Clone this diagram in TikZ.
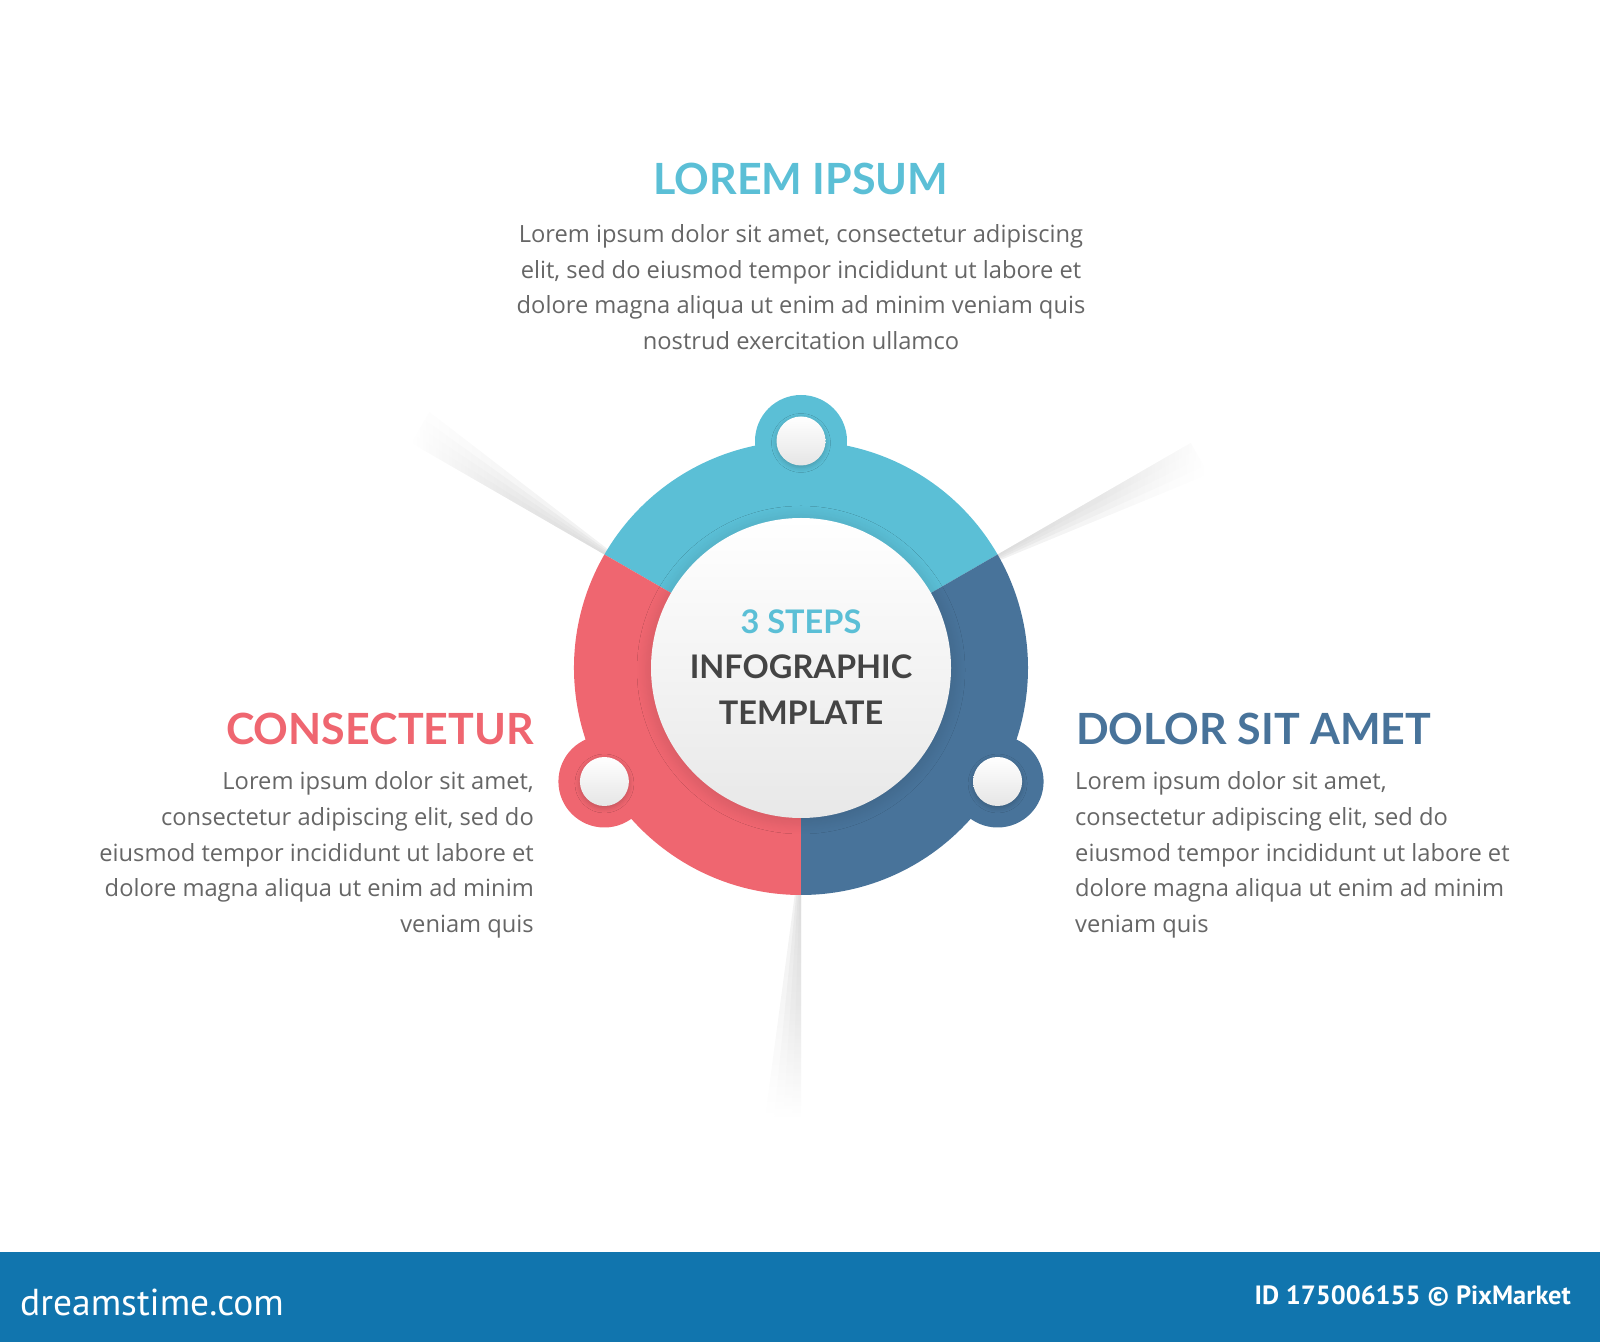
\documentclass[tikz,border=0pt]{standalone}
\usepackage{fontspec}
\setmainfont{Open Sans}
\newfontfamily\titlefont{Lato}
\newfontfamily\barfont{PT Sans}
\usetikzlibrary{calc,shadows.blur}
\definecolor{stepblue}{HTML}{5BBFD6}
\definecolor{stepnavy}{HTML}{48739A}
\definecolor{stepred}{HTML}{EF6670}
\definecolor{bodygray}{HTML}{666666}
\definecolor{hubgray}{HTML}{444444}
\definecolor{barblue}{HTML}{1175AE}
\tikzset{
  title/.style={inner sep=0pt, font=\titlefont\bfseries\fontsize{43}{43}\selectfont},
  body/.style={inner sep=0pt, text=bodygray, font=\fontsize{23.7}{35.7}\selectfont},
  tab/.style={circle, minimum size=92pt, inner sep=0pt},
  hole/.style={circle, minimum size=49pt, inner sep=0pt, top color=white, bottom color=black!10,
    blur shadow={shadow xshift=0pt, shadow yshift=-2pt, shadow blur radius=5pt, shadow opacity=20}},
  hub/.style={circle, minimum size=300pt, inner sep=0pt, top color=white, bottom color=black!9,
    blur shadow={shadow xshift=0pt, shadow yshift=-2pt, shadow blur radius=14pt, shadow blur steps=16, shadow opacity=14}},
  bartext/.style={inner sep=0pt, text=white}
}
\begin{document}
\begin{tikzpicture}[x=1pt,y=1pt]
\useasboundingbox (0,0) rectangle (1600,1342);
\coordinate (c) at (801,674);
\foreach \a/\near/\far in {30/left/right,150/right/left,270/top/bottom}{
  \foreach \w in {9,18,27,36}{
    \begin{scope}[shift={(c)},rotate=\a]
      \shade[\near\space color=black!18, \far\space color=white, middle color=black!12, opacity=0.3]
        (225,0) -- (450,0) -- (450,-\w) -- (225,-\w/6) -- cycle;
    \end{scope}
  }
}
\fill[stepblue] (c) -- ++(30:227) arc[start angle=30,end angle=150,radius=227] -- cycle;
\fill[stepred] (c) -- ++(150:227) arc[start angle=150,end angle=270,radius=227] -- cycle;
\fill[stepnavy] (c) -- ++(270:227) arc[start angle=270,end angle=390,radius=227] -- cycle;
\node[tab, fill=stepblue] (tab top) at ($(c)+(90:227)$) {};
\node[tab, fill=stepred] (tab left) at ($(c)+(210:227)$) {};
\node[tab, fill=stepnavy] (tab right) at ($(c)+(330:227)$) {};
\node[hole] (hole top) at (tab top) {};
\node[hole] (hole left) at (tab left) {};
\node[hole] (hole right) at (tab right) {};
\node[hub] (hub) at (c) {};
\node[align=center, text=hubgray, font=\titlefont\bfseries\fontsize{32.5}{45.5}\selectfont] (hub text) at (801,675)
  {\textcolor{stepblue}{3 STEPS}\\INFOGRAPHIC\\TEMPLATE};
\node[title, text=stepblue] (top title) at (801,1163) {LOREM IPSUM};
\node[body, align=center] (top body) at (801,1055)
  {Lorem ipsum dolor sit amet, consectetur adipiscing\\elit, sed do eiusmod tempor incididunt ut labore et\\dolore magna aliqua ut enim ad minim veniam quis\\nostrud exercitation ullamco};
\node[title, text=stepred, anchor=east] (left title) at (534,613) {CONSECTETUR};
\node[body, align=right, anchor=east] (left body) at (534,487)
  {Lorem ipsum dolor sit amet,\\consectetur adipiscing elit, sed do\\eiusmod tempor incididunt ut labore et\\dolore magna aliqua ut enim ad minim\\veniam quis};
\node[title, text=stepnavy, anchor=west] (right title) at (1076,613) {DOLOR SIT AMET};
\node[body, align=left, anchor=west] (right body) at (1075,487)
  {Lorem ipsum dolor sit amet,\\consectetur adipiscing elit, sed do\\eiusmod tempor incididunt ut labore et\\dolore magna aliqua ut enim ad minim\\veniam quis};
\fill[barblue] (0,0) rectangle (1600,90);
\node[bartext, anchor=west, font=\barfont\fontsize{37.5}{37.5}\selectfont] (site) at (20,40) {dreamstime.com};
\node[bartext, anchor=east, font=\barfont\bfseries\fontsize{26.4}{26.4}\selectfont] (credit) at (1571,46) {ID 175006155 © PixMarket};
\end{tikzpicture}
\end{document}
